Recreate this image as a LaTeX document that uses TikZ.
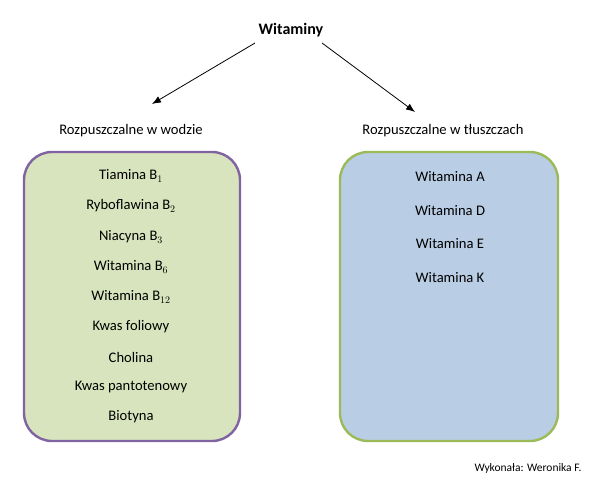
\documentclass[tikz,border=0pt]{standalone}
\usepackage{fontspec}
\setmainfont{Carlito}
\usetikzlibrary{arrows.meta}
\begin{document}
\begin{tikzpicture}[x=1pt,y=-1pt,
  lbl/.style={font=\fontsize{14.6}{17}\selectfont},
  item/.style={font=\fontsize{14.6}{17}\selectfont},
  box/.style={rounded corners=28pt,line width=2.4pt},
  arr/.style={-{Latex[length=9pt,width=7pt]},line width=0.8pt}]
\useasboundingbox (0,0) rectangle (615,493);
\node[font=\fontsize{16}{19}\selectfont\bfseries] (t) at (291,30) {Witaminy};
\coordinate (a1) at (152,104);
\coordinate (a2) at (415,112);
\draw[arr] (255,43) -- (a1);
\draw[arr] (322,43) -- (a2);
\node[lbl] (lw) at (131,131) {Rozpuszczalne w wodzie};
\node[lbl] (lt) at (443,131) {Rozpuszczalne w tłuszczach};
\draw[box,draw={rgb,255:red,128;green,100;blue,162},fill={rgb,255:red,215;green,228;blue,189}] (24,152) rectangle (240,441);
\draw[box,draw={rgb,255:red,155;green,187;blue,89},fill={rgb,255:red,185;green,205;blue,229}] (340,152) rectangle (558,441);
\foreach \t/\y [count=\i] in {Tiamina B$_1$/176,Ryboflawina B$_2$/206,Niacyna B$_3$/237,Witamina B$_6$/267,Witamina B$_{12}$/297,Kwas foliowy/327,Cholina/357,Kwas pantotenowy/387,Biotyna/417}
  \node[item] (l\i) at (131,\y) {\t};
\foreach \t/\y [count=\i] in {Witamina A/177,Witamina D/211,Witamina E/244,Witamina K/278}
  \node[item] (r\i) at (450,\y) {\t};
\node[font=\fontsize{11.5}{13}\selectfont] (f) at (528,468) {Wykonała: Weronika F.};
\end{tikzpicture}
\end{document}
